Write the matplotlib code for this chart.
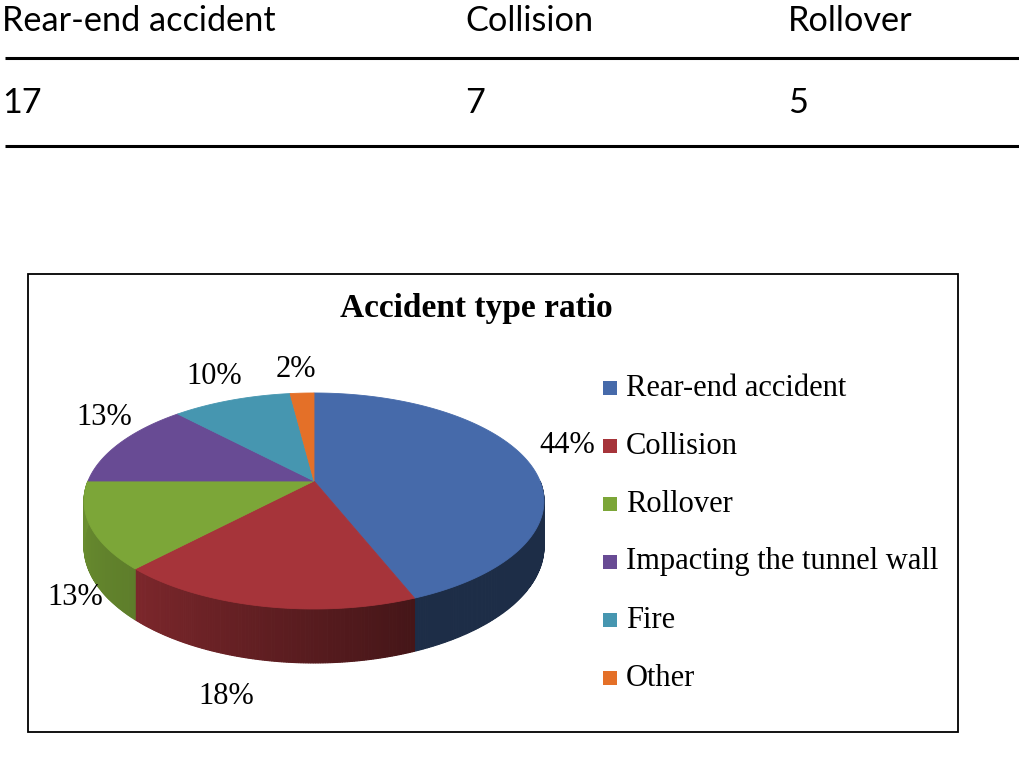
import numpy as np
import matplotlib.pyplot as plt
from matplotlib.patches import Polygon, Rectangle
from matplotlib.colors import to_rgb

# table fragment above the chart
table_header = ['Rear-end accident', 'Collision', 'Rollover']
table_values = ['17', '7', '5']

# pie data (percent labels as printed)
categories = ['Rear-end accident', 'Collision', 'Rollover',
              'Impacting the tunnel wall', 'Fire', 'Other']
shares = [44, 18, 13, 13, 10, 2]
colors = ['#466AAA', '#A6343A', '#7CA638', '#684B94', '#4696B0', '#E47028']

W, H = 1019, 757
fig = plt.figure(figsize=(W / 100, H / 100), dpi=100)
ax = fig.add_axes([0, 0, 1, 1])
ax.set_xlim(0, W)
ax.set_ylim(H, 0)
ax.axis('off')

# --- table ---
col_x = [2, 465, 788]
for x, head, val in zip(col_x, table_header, table_values):
    ax.text(x, 21, head, fontsize=24.7, family='Lato', va='center', ha='left')
    ax.text(x, 103, val, fontsize=24.7, family='Lato', va='center', ha='left')
ax.plot([5, W], [58, 58], color='black', lw=2.2, solid_capstyle='butt')
ax.plot([5, W], [146, 146], color='black', lw=2.2, solid_capstyle='butt')

# --- chart box + title ---
ax.add_patch(Rectangle((28, 274), 930, 458, fill=False, ec='black', lw=1.3))
ax.text(476, 308, 'Accident type ratio', family='Liberation Serif',
        weight='bold', fontsize=24, ha='center', va='center')

# --- 3D pie with simple perspective ---
cx, cy = 314, 481
rx, ry, persp, depth = 226, 104.3, 0.185, 44


def proj(t, r=1.0, drop=0.0):
    X = r * np.cos(t)
    Y = r * np.sin(t)
    w = 1 + persp * Y
    return cx + rx * X / w, cy - ry * Y / w + drop / w


def shade(tdeg):
    return np.interp(tdeg, [-180, -135, -70, 0], [0.87, 0.76, 0.42, 0.42])


fr = np.array(shares) / sum(shares)
bounds = 90 - 360 * np.concatenate([[0], np.cumsum(fr)])

# sides (front half only)
for i, col in enumerate(colors):
    a0, a1 = bounds[i], bounds[i + 1]
    hi, lo = min(a0, 0), max(a1, -180)
    if hi <= lo:
        continue
    ts = np.linspace(hi, lo, max(int((hi - lo) * 2), 2))
    base = np.array(to_rgb(col))
    for t0, t1 in zip(ts[:-1], ts[1:]):
        r0, r1 = np.radians(t0), np.radians(t1)
        x0, y0 = proj(r0)
        x1, y1 = proj(r1)
        x2, y2 = proj(r1, drop=depth)
        x3, y3 = proj(r0, drop=depth)
        c = base * shade((t0 + t1) / 2)
        ax.add_patch(Polygon([(x0, y0), (x1, y1), (x2, y2), (x3, y3)],
                             closed=True, fc=c, ec=c, lw=0.8, zorder=2))

# top faces
for i, col in enumerate(colors):
    a0, a1 = bounds[i], bounds[i + 1]
    ts = np.radians(np.linspace(a0, a1, max(int((a0 - a1) * 2), 3)))
    xs, ys = proj(ts)
    pts = [(cx, cy)] + list(zip(xs, ys))
    ax.add_patch(Polygon(pts, closed=True, fc=col, ec=col, lw=0.6, zorder=3))

# percent labels
nudges = [(8, -14), (-26, 11), (22, 16), (10, -20), (-7, -13), (-5, -13)]
for i, s in enumerate(shares):
    mid = np.radians((bounds[i] + bounds[i + 1]) / 2)
    drop = depth if np.sin(mid) < 0 else 0
    lx, ly = proj(mid, r=1.15, drop=drop)
    ax.text(lx + nudges[i][0], ly + nudges[i][1], f'{s}%', family='Liberation Serif',
            fontsize=22, ha='center', va='center', zorder=4)

# legend
leg_x, leg_y, leg_step, sq = 603, 388, 58, 14
for i, (name, col) in enumerate(zip(categories, colors)):
    y = leg_y + i * leg_step
    ax.add_patch(Rectangle((leg_x, y - sq / 2), sq, sq, fc=col, ec='none'))
    ax.text(leg_x + sq + 9, y, name, family='Liberation Serif', fontsize=22,
            ha='left', va='center')

fig.savefig('out.png', dpi=100)
